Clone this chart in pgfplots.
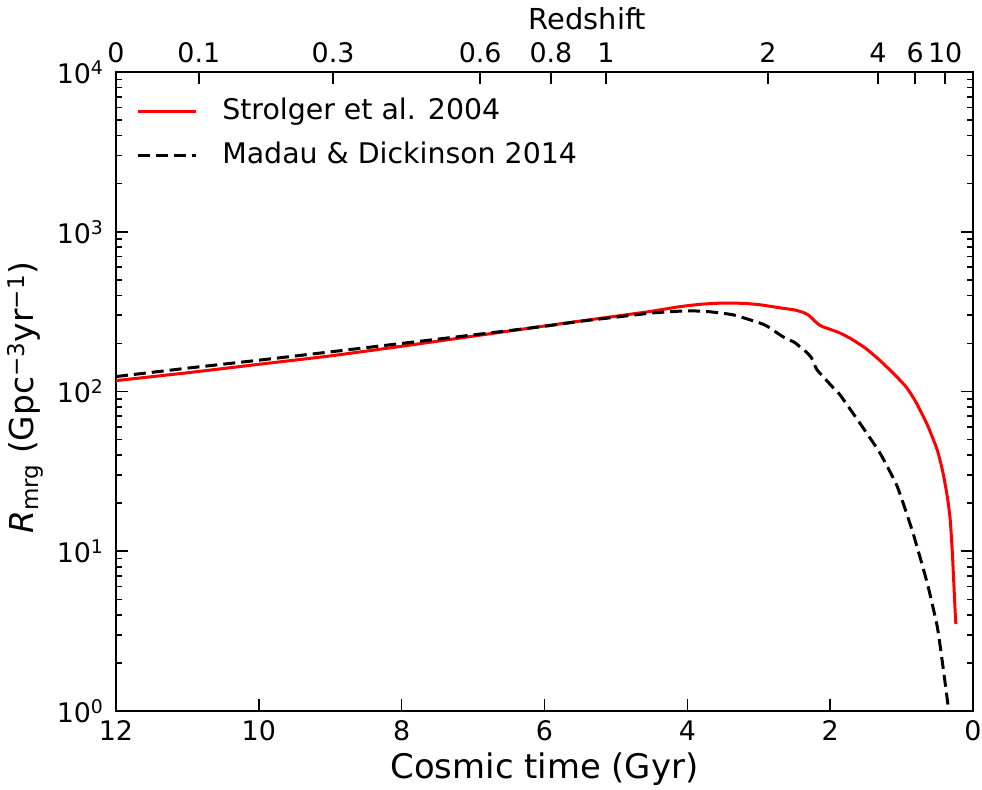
\documentclass[border=0pt]{standalone}
\usepackage{fontspec}
\setmainfont{DejaVu Sans}
\usepackage{pgfplots}
\pgfplotsset{compat=1.18}

\begin{document}
\begin{tikzpicture}
\useasboundingbox (-116bp,-79bp) rectangle (866bp,711bp);
\pgfplotsset{
  myax/.style={
    width=857bp, height=639bp, scale only axis,
    xmin=0, xmax=12, x dir=reverse,
    axis line style={line width=2bp},
    tick align=inside,
    major tick length=12bp, minor tick length=6bp,
    every tick/.style={black, line width=1.6bp},
    tick label style={font=\fontsize{27}{27}\selectfont},
    /pgf/number format/assume math mode=true,
  }
}
\begin{axis}[myax,
  at={(0,0)}, anchor=south west,
  ymode=log, ymin=1, ymax=1e4,
  ytick={1,10,100,1000,10000},
  yticklabels={10\textsuperscript{0},10\textsuperscript{1},10\textsuperscript{2},10\textsuperscript{3},10\textsuperscript{4}},
  xtick={0,2,4,6,8,10,12},
  xtick pos=left, ytick pos=both,
  yticklabel style={xshift=-9bp},
  xticklabel style={yshift=-6bp},
  xlabel={Cosmic time (Gyr)},
  xlabel style={font=\fontsize{34}{34}\selectfont, at={(axis description cs:0.5,-0.105)}, anchor=base},
  ylabel={\textit{R}\textsubscript{mrg} (Gpc\textsuperscript{−3}yr\textsuperscript{−1})},
  ylabel style={font=\fontsize{33}{33}\selectfont, at={(axis description cs:-0.0957,0.49)}, anchor=base},
  legend style={draw=none, fill=none, at={(0.020,0.962)}, anchor=north west,
    font=\fontsize{28.5}{28.5}\selectfont,
    nodes={inner sep=0pt, text height=21bp, text depth=6bp},
    row sep=17bp,
    /tikz/every odd column/.append style={column sep=25bp}},
  legend cell align=left,
  legend image code/.code={\draw[#1] (0bp,0bp) -- (58bp,0bp);},
]
\addplot[red, line width=3bp, smooth, tension=0.3] table {
t v
12 117
11 131
10 148
9 167
8 192
7 222
6 257
5.5 276
5 296
4.5 318
4.1 340
3.8 352
3.5 358
3.2 356
2.98 349
2.7 334
2.5 324
2.38 313
2.3 300
2.24 283
2.17 265
2.11 255
2.0 245
1.86 232
1.7 213
1.5 186
1.3 156
1.1 128
0.93 106
0.8 86
0.64 62
0.5 43
0.42 31
0.36 22
0.32 16
0.29 10
0.27 6.5
0.25 4.2
0.24 3.5
};
\addlegendentry{Strolger et al. 2004}
\addplot[black, line width=3bp, dash pattern=on 12bp off 6bp, smooth, tension=0.3] table {
t v
12 124
11 140
10 157
9 177
8 200
7 226
6 256
5.5 275
5 292
4.5 310
4.0 320
3.7 316
3.36 302
3.0 270
2.88 256
2.66 220
2.5 203
2.42 190
2.33 176
2.26 162
2.19 138
2.1 124
1.96 106
1.86 95
1.58 63
1.30 41
1.06 25.4
0.84 13.0
0.64 6.3
0.5 3.37
0.42 1.89
0.35 1.09
0.33 0.9
};
\addlegendentry{Madau \& Dickinson 2014}
\end{axis}
\begin{axis}[myax,
  at={(0,0)}, anchor=south west,
  ymin=0, ymax=1,
  hide y axis,
  axis x line*=top,
  xtick={12,10.84,8.96,6.90,5.91,5.14,2.87,1.33,0.81,0.39},
  xticklabels={0,0.1,0.3,0.6,0.8,1,2,4,6,10},
  xtick pos=right,
  xticklabel style={yshift=6bp},
  xlabel={Redshift},
  xlabel style={font=\fontsize{29}{29}\selectfont, at={(axis description cs:0.55,1.066)}, anchor=base},
]
\end{axis}
\end{tikzpicture}
\end{document}
